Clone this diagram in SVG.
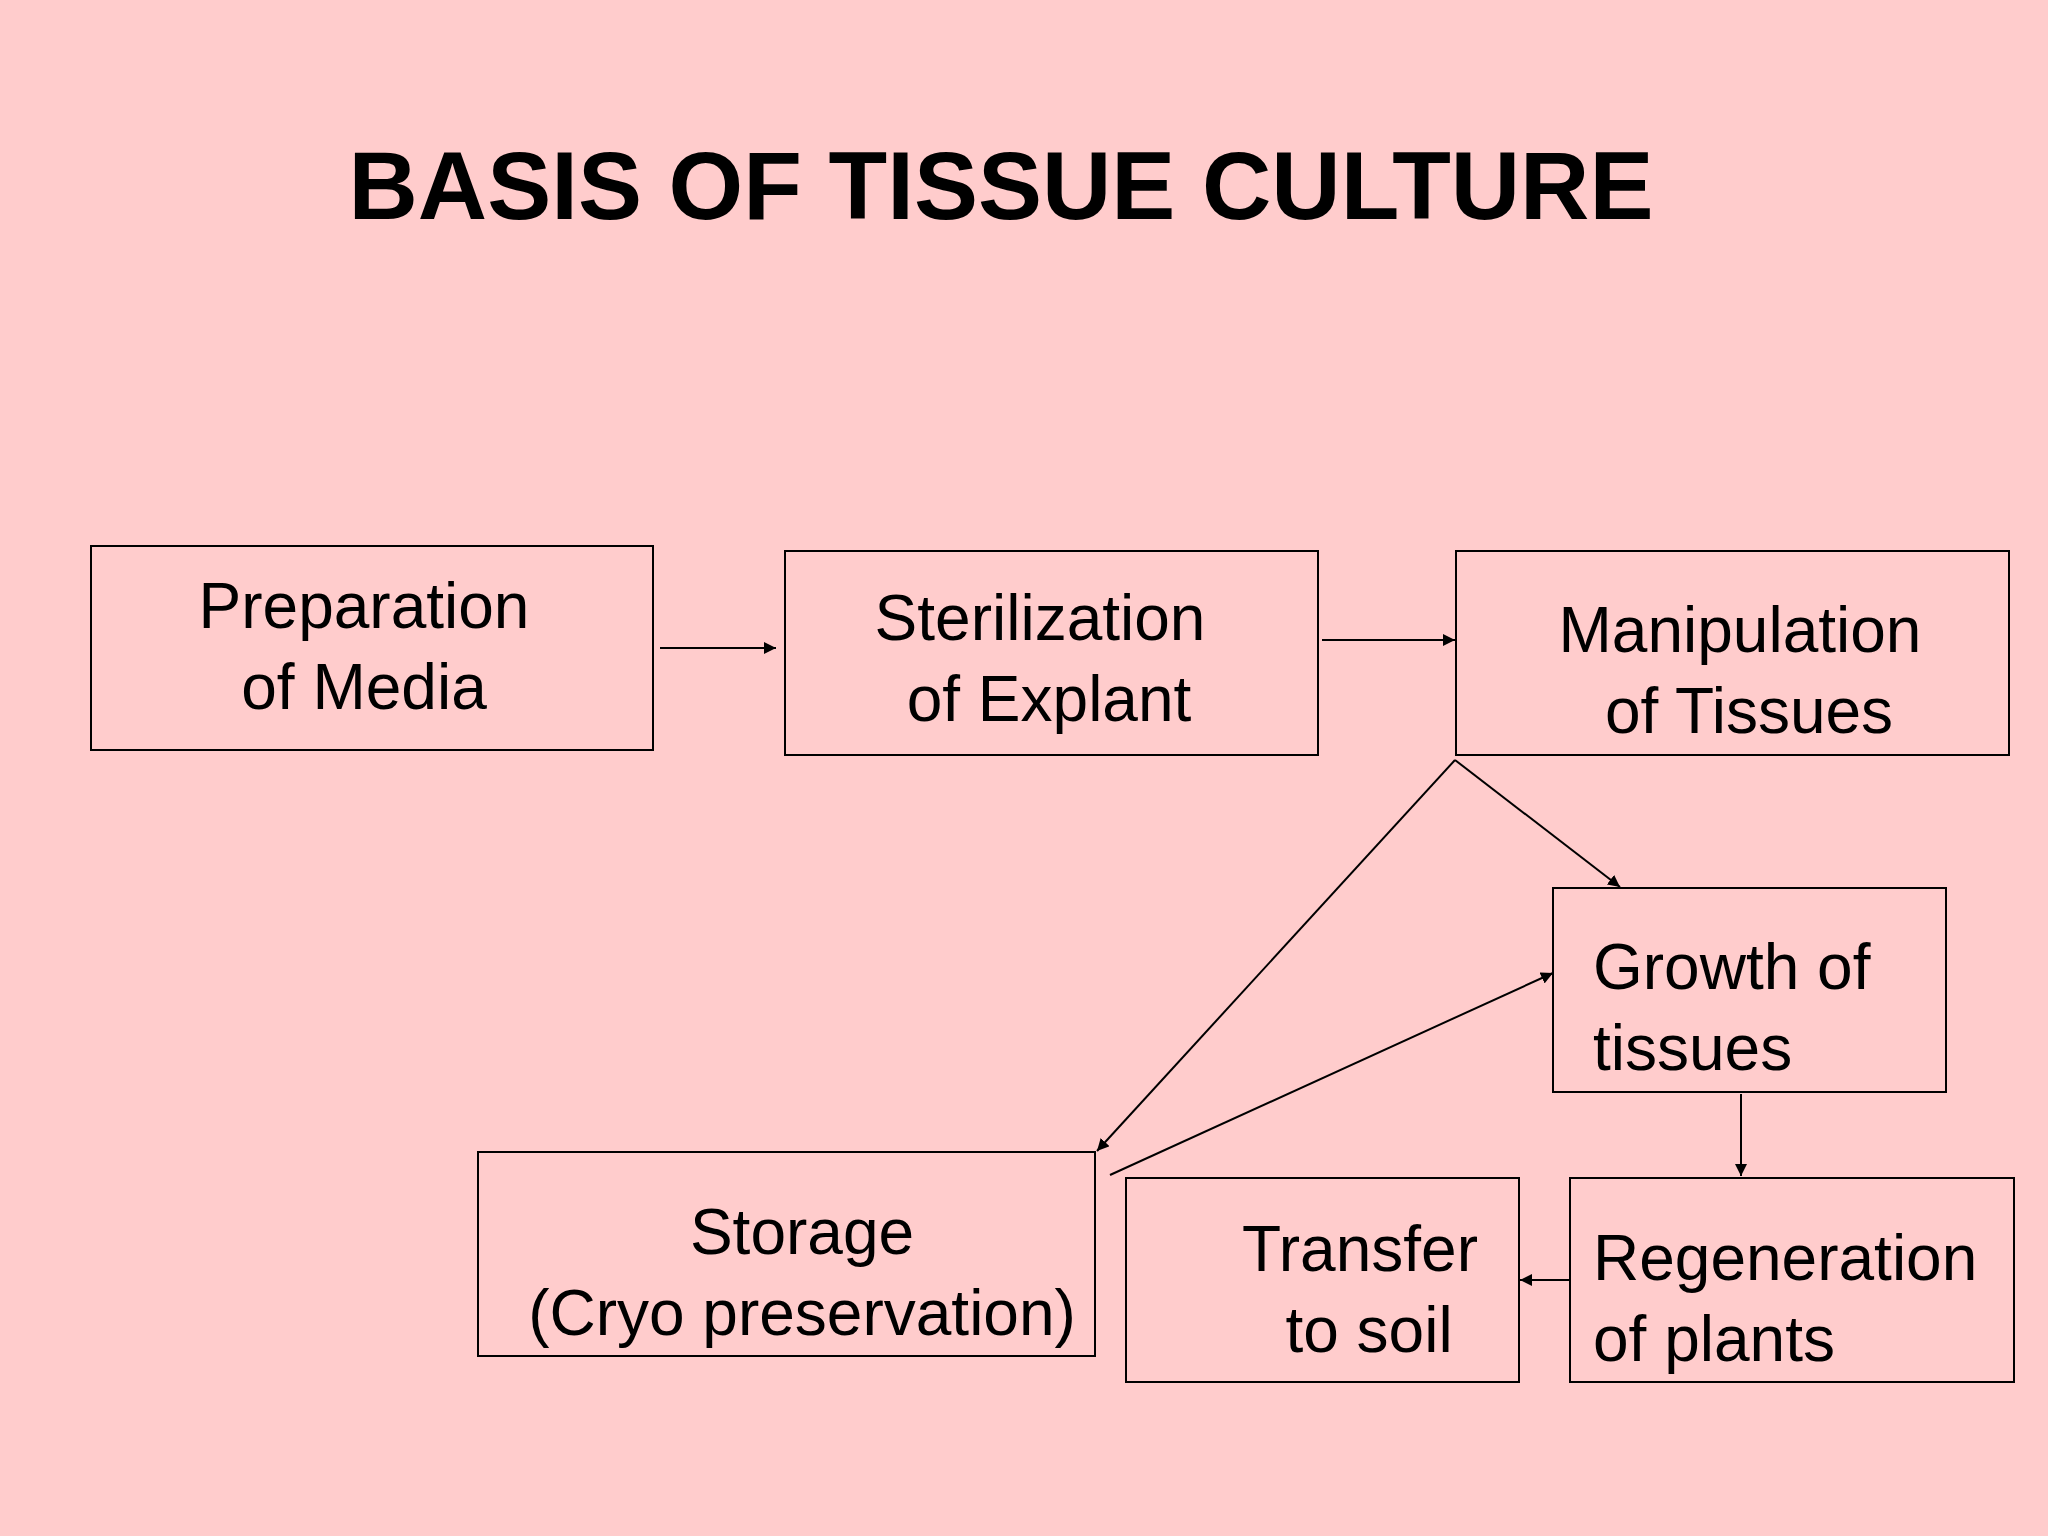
<svg xmlns="http://www.w3.org/2000/svg" width="2048" height="1536" viewBox="0 0 2048 1536">
<style>
.b{fill:none;stroke:#000;stroke-width:2}
.t{font-family:"Liberation Sans",Arial,sans-serif;font-size:64px;fill:#000}
.c{stroke:#000;stroke-width:2;fill:none;marker-end:url(#ah)}
</style>
<defs><marker id="ah" viewBox="0 0 10 10" refX="10" refY="5" markerWidth="12" markerHeight="12" markerUnits="userSpaceOnUse" orient="auto"><path d="M0,0L10,5L0,10z" fill="#000"/></marker></defs>
<rect width="2048" height="1536" fill="#ffcccc"/>
<text x="1001" y="219" text-anchor="middle" style="font-family:'Liberation Sans',Arial,sans-serif;font-size:96px;font-weight:bold">BASIS OF TISSUE CULTURE</text>
<g id="n1"><rect class="b" x="91" y="546" width="562" height="204"/><text class="t" x="364" y="628" text-anchor="middle">Preparation</text><text class="t" x="364" y="709" text-anchor="middle">of Media</text></g>
<g id="n2"><rect class="b" x="785" y="551" width="533" height="204"/><text class="t" x="1040" y="640" text-anchor="middle">Sterilization</text><text class="t" x="1049" y="721" text-anchor="middle">of Explant</text></g>
<g id="n3"><rect class="b" x="1456" y="551" width="553" height="204"/><text class="t" x="1740" y="652" text-anchor="middle">Manipulation</text><text class="t" x="1749" y="733" text-anchor="middle">of Tissues</text></g>
<g id="n4"><rect class="b" x="1553" y="888" width="393" height="204"/><text class="t" x="1593" y="989">Growth of</text><text class="t" x="1593" y="1070">tissues</text></g>
<g id="n5"><rect class="b" x="478" y="1152" width="617" height="204"/><text class="t" x="802" y="1254" text-anchor="middle">Storage</text><text class="t" x="802" y="1335" text-anchor="middle">(Cryo preservation)</text></g>
<g id="n6"><rect class="b" x="1126" y="1178" width="393" height="204"/><text class="t" x="1360" y="1271" text-anchor="middle">Transfer</text><text class="t" x="1369" y="1352" text-anchor="middle">to soil</text></g>
<g id="n7"><rect class="b" x="1570" y="1178" width="444" height="204"/><text class="t" x="1593" y="1280">Regeneration</text><text class="t" x="1593" y="1361">of plants</text></g>
<g id="connectors">
<path class="c" d="M660,648H776"/>
<path class="c" d="M1322,640H1455"/>
<path class="c" d="M1455,760L1620,887"/>
<path class="c" d="M1455,760L1097,1151"/>
<path class="c" d="M1110,1175L1553,973"/>
<path class="c" d="M1741,1094V1176"/>
<path class="c" d="M1570,1280H1520"/>
</g>
</svg>
